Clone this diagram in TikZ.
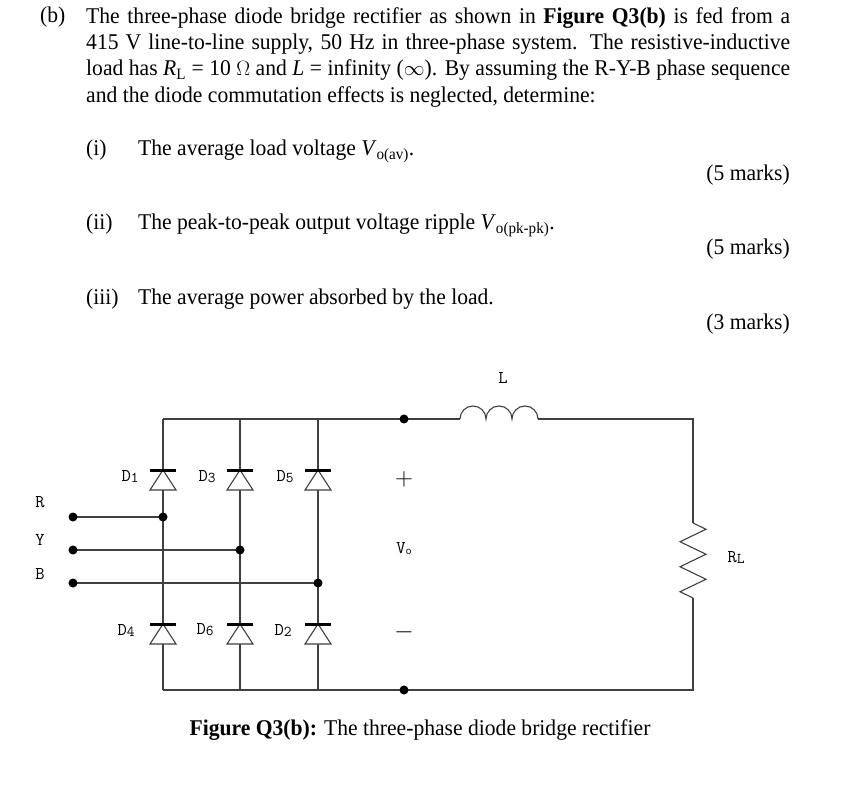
\documentclass[tikz,border=0pt]{standalone}
\usepackage{fontspec}
\setmainfont{Liberation Serif}[FakeStretch=0.96]
\newcommand\cmono{\ttfamily}
\begin{document}
\begin{tikzpicture}[x=1pt,y=-1pt,
  wire/.style={line width=1.1pt, draw=black!75},
  dot/.style={circle, fill=black, inner sep=0pt, minimum size=9pt},
  txt/.style={font=\fontsize{22.5}{26.4}\selectfont, inner sep=0pt},
  lbl/.style={font=\cmono\fontsize{18}{20}\selectfont, inner sep=0pt}]
\useasboundingbox (0,0) rectangle (860,794);
% text
\node[txt, anchor=north west] (pb) at (40,7) {(b)};
\node[txt, anchor=north west, text width=704pt, align=justify] (para) at (86,7) {The three-phase diode bridge rectifier as shown in \textbf{Figure Q3(b)} is fed from a\linebreak 415 V line-to-line supply, 50 Hz in three-phase system. The resistive-inductive\linebreak load has \textit{R}\textsubscript{L} = 10 $\Omega$ and \textit{L} = infinity ($\infty$). By assuming the R-Y-B phase sequence\linebreak and the diode commutation effects is neglected, determine:};
\node[txt, anchor=base west] (i) at (86,156) {(i)};
\node[txt, anchor=base west] (it) at (138,156) {The average load voltage \textit{V}\textsubscript{o(av)}.};
\node[txt, anchor=base east] (m1) at (790,181) {(5 marks)};
\node[txt, anchor=base west] (ii) at (86,230) {(ii)};
\node[txt, anchor=base west] (iit) at (138,230) {The peak-to-peak output voltage ripple \textit{V}\textsubscript{o(pk-pk)}.};
\node[txt, anchor=base east] (m2) at (790,255) {(5 marks)};
\node[txt, anchor=base west] (iii) at (86,305) {(iii)};
\node[txt, anchor=base west] (iiit) at (138,305) {The average power absorbed by the load.};
\node[txt, anchor=base east] (m3) at (790,330) {(3 marks)};
% circuit coordinates
\coordinate (t1) at (163,419); \coordinate (t2) at (240,419); \coordinate (t3) at (318,419);
\coordinate (b1) at (163,690); \coordinate (b2) at (240,690); \coordinate (b3) at (318,690);
\coordinate (l1) at (460,419); \coordinate (l2) at (538,419);
\coordinate (tr) at (693,419); \coordinate (br) at (693,690);
\coordinate (r1) at (693,523); \coordinate (r2) at (693,598);
\coordinate (pt) at (404,419); \coordinate (pbt) at (404,690);
\coordinate (jR) at (163,517); \coordinate (jY) at (240,550); \coordinate (jB) at (318,583);
\coordinate (sR) at (73,517); \coordinate (sY) at (73,550); \coordinate (sB) at (73,583);
% wires
\draw[wire] (t1) -- (pt) -- (l1);
\draw[wire] (l1) arc (180:360:13) arc (180:360:13) arc (180:360:13);
\draw[wire] (l2) -- (tr) -- (r1);
\draw[wire] (r1) -- ++(13,6.25) -- ++(-26,12.5) -- ++(26,12.5) -- ++(-26,12.5) -- ++(26,12.5) -- ++(-26,12.5) -- (r2);
\draw[wire] (r2) -- (br) -- (pbt) -- (b1);
\foreach \a/\b in {t1/b1,t2/b2,t3/b3} \draw[wire] (\a) -- (\b);
\draw[wire] (sR) -- (jR); \draw[wire] (sY) -- (jY); \draw[wire] (sB) -- (jB);
\foreach \c in {pt,pbt,jR,jY,jB,sR,sY,sB} \node[dot] at (\c) {};
% diodes
\foreach \x in {163,240,318} {
  \foreach \y in {470,624} {
    \filldraw[wire, fill=white] (\x-13,\y+20) -- (\x+13,\y+20) -- (\x,\y) -- cycle;
    \draw[line width=3pt] (\x-13,\y) -- (\x+13,\y);
  }
}
\node[lbl] (D1) at (130,477) {D\raisebox{-1pt}{\fontsize{15}{15}\selectfont1}};
\node[lbl] (D3) at (207,477) {D\raisebox{-1pt}{\fontsize{15}{15}\selectfont3}};
\node[lbl] (D5) at (285,477) {D\raisebox{-1pt}{\fontsize{15}{15}\selectfont5}};
\node[lbl] (D4) at (126,630) {D\raisebox{-1pt}{\fontsize{15}{15}\selectfont4}};
\node[lbl] (D6) at (205,630) {D\raisebox{-1pt}{\fontsize{15}{15}\selectfont6}};
\node[lbl] (D2) at (283,630) {D\raisebox{-1pt}{\fontsize{15}{15}\selectfont2}};
\node[lbl, font=\fontsize{24}{24}\selectfont] (plus) at (404,479) {$+$};
\node[lbl] (vo) at (404,549) {V\raisebox{-1pt}{\fontsize{12}{12}\selectfont o}};
\node[lbl, font=\fontsize{24}{24}\selectfont] (minus) at (404,632) {$-$};
\node[lbl] (R) at (40,502) {R};
\node[lbl] (Y) at (40,540) {Y};
\node[lbl] (B) at (40,574) {B};
\node[lbl] (L) at (503,378) {L};
\node[lbl] (RL) at (736,557) {R\raisebox{-1pt}{\fontsize{15}{15}\selectfont L}};
\node[txt] (cap) at (420,730) {\textbf{Figure Q3(b):} The three-phase diode bridge rectifier};
\end{tikzpicture}
\end{document}
